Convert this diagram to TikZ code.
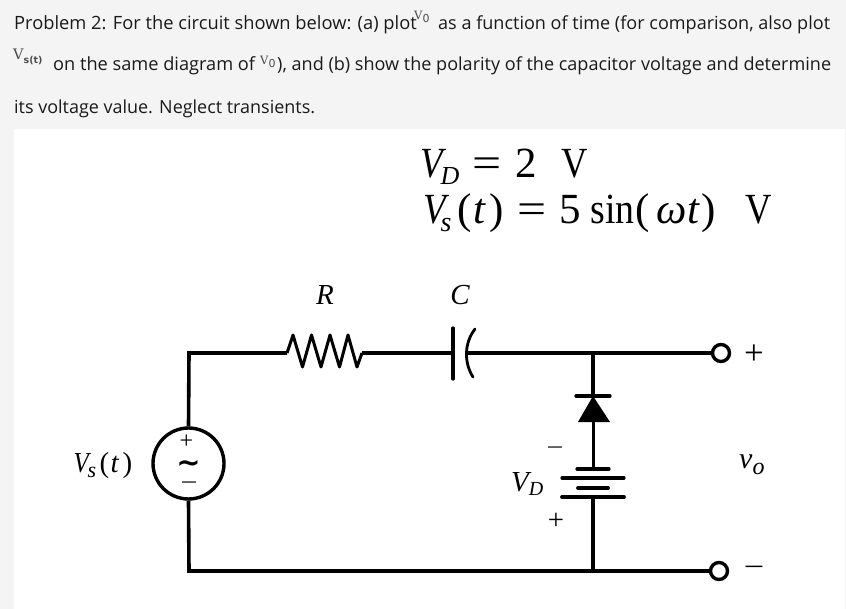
\documentclass[tikz,border=0pt]{standalone}
\usepackage{graphicx}
\usepackage{fontspec}
\setmainfont{Open Sans}
\newfontfamily\eqfont{Liberation Serif}
\newfontfamily\symfont{DejaVu Sans}
\newfontfamily\smallfont{DejaVu Serif}
\newfontfamily\smallsans{DejaVu Sans}
\definecolor{panel}{HTML}{F4F4F4}
\definecolor{ink}{HTML}{1A1A1A}
\newcommand{\eqv}[1]{{\eqfont\itshape #1}}
\newcommand{\place}[2]{\rlap{\hspace{#1pt}#2}}
\newcommand{\subs}[3]{\raisebox{#1pt}{\fontsize{#2}{#2}\selectfont\eqv{#3}}}
\newcommand{\narrowV}{\scalebox{.86}[1]{\eqv{V}}}
\newcommand{\wideq}{\scalebox{1.2}[1]{=}}
\newcommand{\widem}{\scalebox{1.25}[1]{−}}
\newcommand{\widep}{\scalebox{1.2}{+}}
\newcommand{\vzero}{V\raisebox{-3pt}{\smallsans\fontsize{11}{11}\selectfont 0}}
\tikzset{
  x=1pt,y=-1pt,
  wire/.style={line width=3.6pt,black},
  thinwire/.style={line width=3pt,black,line join=round},
  plate/.style={line width=3.2pt,black,line cap=round},
  para/.style={anchor=base west,inner sep=0pt,text=ink,font=\fontsize{18.2}{20}\selectfont},
  paraB/.style={para,font=\fontsize{18.05}{20}\selectfont},
  paraC/.style={para,font=\fontsize{17.96}{20}\selectfont},
  paraD/.style={para,font=\fontsize{18.3}{20}\selectfont},
  tinyv/.style={anchor=base west,inner sep=0pt,text=black!70,font=\smallfont\fontsize{11.5}{12}\selectfont},
  bigv/.style={tinyv,font=\smallfont\fontsize{14.5}{15}\selectfont},
  lab/.style={inner sep=0pt,text=black,font=\eqfont\fontsize{29}{30}\selectfont},
  smalllab/.style={lab,font=\eqfont\fontsize{24}{24}\selectfont},
  eq/.style={anchor=base west,inner sep=0pt,text=black,font=\eqfont\fontsize{43}{44}\selectfont},
  term/.style={circle,draw=black,line width=3.4pt,fill=white,minimum size=17pt,inner sep=0pt},
  source/.style={circle,draw=black,line width=3.4pt,fill=white,minimum size=71pt,inner sep=0pt},
}
\begin{document}
\begin{tikzpicture}
\useasboundingbox (0,0) rectangle (846,609);
\fill[panel] (0,0) rectangle (846,609);
\fill[white] (14,129) rectangle (845,609);
% paragraph
\node[paraD] (l1) at (14,30) {Problem 2: For the circuit shown below: (a) plot};
\node[tinyv] (v1) at (414,20) {\vzero};
\node[paraB] (l1b) at (438,30) {as a function of time (for comparison, also plot};
\node[bigv] (v2) at (13,60) {V\raisebox{-4pt}{\smallsans\bfseries\fontsize{9.5}{10}\selectfont s(t)}};
\node[para] (l2) at (53,71) {on the same diagram of};
\node[tinyv] (v3) at (260,65) {\vzero};
\node[paraB] (l2b) at (277,71) {), and (b) show the polarity of the capacitor voltage and determine};
\node[paraC] (l3) at (14,114) {its voltage value. Neglect transients.};
% equations
\node[eq] (e1) at (420,178) {\place{0}{\narrowV}\place{20}{\subs{-7}{26}{D}}\place{52}{\wideq}\place{95}{2}\place{141}{\scalebox{.85}[1]{V}}\hspace{168pt}};
\node[eq] (e2) at (420,224) {\place{3}{\narrowV}\place{20}{\subs{-8}{28}{s}}\place{37}{(}\place{53}{\eqv{t}}\place{69}{)}\place{97}{\wideq}\place{139}{5}\place{170}{\scalebox{.88}[1]{sin}}\place{215}{(}\place{236}{\eqv{ωt}}\place{281}{)}\place{325}{\scalebox{.85}[1]{V}}\hspace{350pt}};
% circuit
\node[source] (src) at (188.5,463.5) {};
\node[smalllab] (sp) at (186.5,442) {+};
\node[inner sep=0pt,font=\symfont\bfseries\fontsize{29}{29}\selectfont] (st) at (188.5,466) {∼};
\node[smalllab] (sm) at (189,486) {\widem};
\coordinate (tl) at (189,353);
\coordinate (bl) at (189,571);
\coordinate (rin) at (287,353);
\coordinate (rout) at (362,353);
\coordinate (capA) at (452,353);
\coordinate (capB) at (465,353);
\coordinate (dtop) at (593,353);
\node[term] (tp) at (721,353) {};
\node[term] (tm) at (719,571) {};
\coordinate (dbot) at (593,571);
\coordinate (dk) at (593,396);
\coordinate (da) at (593,422);
\coordinate (b1) at (593,469);
\coordinate (b4) at (593,497);
\draw[wire] (src.north) -- (tl) -- (rin);
\draw[wire] (src.south) -- (bl) -- (tm.west);
\draw[thinwire] (rin) -- (293,335) -- (302.5,367) -- (311.5,335) -- (321,367) -- (330,335) -- (339.5,367) -- (348,335) -- (357,367) -- (rout);
\draw[wire] (rout) -- (capA);
\draw[plate] (453,328) -- (453,379);
\draw[line width=2.8pt,line cap=round] (475,329) .. controls (464,343) and (464,363) .. (473,377);
\draw[wire] (capB) -- (tp.west);
\draw[wire] (dtop) -- (dk);
\draw[plate] (576,396) -- (610,396);
\fill[black] (dk) -- (610,422) -- (578,422) -- cycle;
\draw[line width=3pt] (da) -- (b1);
\draw[plate] (577,469) -- (609,469);
\draw[plate] (562,478) -- (624,478);
\draw[plate,line width=3.8pt] (578,488) -- (608,488);
\draw[plate,line width=3.8pt] (562,497) -- (624,497);
\draw[wire] (b4) -- (dbot);
% labels
\node[lab] (rl) at (325,295) {\eqv{R}};
\node[lab] (cl) at (460,295) {\eqv{C}};
\node[lab,anchor=base west] (vs) at (73,472) {\place{0}{\narrowV}\place{14}{\subs{-5}{22}{s}}\place{26}{(}\place{37}{\eqv{t}}\place{49}{)}\hspace{60pt}};
\node[lab,anchor=base west] (vd) at (511,491) {\eqv{V}\subs{-4}{20}{D}};
\node[lab,anchor=base west] (vo) at (739,468) {\fontsize{30}{30}\selectfont\eqv{v}\subs{-6}{24}{o}};
\node[lab] (mp) at (754,355) {\widep};
\node[lab] (mm) at (754,571) {\widem};
\node[smalllab] (dm) at (555,451) {\widem};
\node[smalllab] (dp) at (556,521) {\widep};
\end{tikzpicture}
\end{document}
